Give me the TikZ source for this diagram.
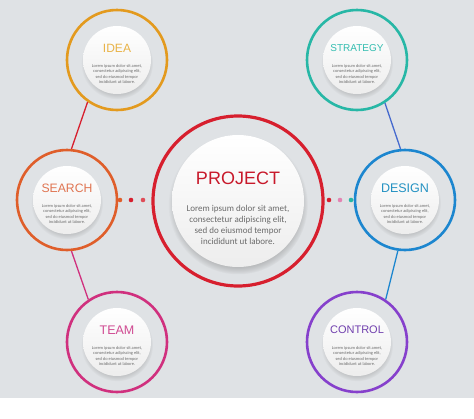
\documentclass[tikz,border=0pt]{standalone}
\usepackage{fontspec}
\setmainfont{Liberation Sans}
\newfontfamily\loremfont{Carlito}
\usetikzlibrary{shadows}

\definecolor{bgcol}{HTML}{DFE2E5}
\definecolor{loremcol}{HTML}{6A6A6A}
\definecolor{idearing}{HTML}{E39A1E}
\definecolor{ideatitle}{HTML}{E9B347}
\definecolor{strategyring}{HTML}{27B7A6}
\definecolor{strategytitle}{HTML}{33BDB0}
\definecolor{searchring}{HTML}{DF5E2A}
\definecolor{searchtitle}{HTML}{E07552}
\definecolor{designring}{HTML}{1C86CF}
\definecolor{designtitle}{HTML}{2291C2}
\definecolor{teamring}{HTML}{D0307E}
\definecolor{teamtitle}{HTML}{D04A92}
\definecolor{controlring}{HTML}{8640CC}
\definecolor{controltitle}{HTML}{7140AE}
\definecolor{projectring}{HTML}{D71F2E}
\definecolor{projecttitle}{HTML}{C8192B}

\def\loremtext{Lorem ipsum dolor sit amet,\\consectetur adipiscing elit,\\sed do eiusmod tempor\\incididunt ut labore.}

\begin{document}
\begin{tikzpicture}[x=1pt,y=-1pt]
        \tikzstyle{ring}=[circle,draw,line width=2.6pt,minimum size=100pt,inner sep=0pt]
        \tikzstyle{disc}=[circle,minimum size=68pt,inner sep=0pt,top color=white,bottom color=black!7,
            circular drop shadow={shadow xshift=0pt,shadow yshift=-3pt,shadow scale=1.06,opacity=0.3}]
        \tikzstyle{title}=[inner sep=0pt]
        \tikzstyle{lorem small}=[inner sep=0pt,align=center,text=loremcol,font=\loremfont\fontsize{4.4}{5.2}\selectfont]
        \tikzstyle{lorem big}=[inner sep=0pt,align=center,text=loremcol,font=\loremfont\fontsize{9}{11}\selectfont]
        \tikzstyle{link}=[line width=1.3pt]
        \tikzstyle{dot}=[circle,minimum size=4.6pt,inner sep=0pt]

        % Background and white strip at the bottom
        \fill[bgcol] (0,0) rectangle (474,398);
        \fill[white] (0,398) rectangle (474,418);
        \useasboundingbox (0,0) rectangle (474,418);

        % Draw the six small circles
        \foreach \name / \x / \y / \ts / \title in {idea/117/60/12/IDEA, strategy/357/60/10/STRATEGY,
                search/67/200/12.2/SEARCH, design/405/200/12.5/DESIGN,
                team/117/342/12.5/TEAM, control/357/342/11/CONTROL}
        {
            \node[ring,draw=\name ring] (\name) at (\x,\y) {};
            \node[disc] (\name-disc) at (\x,\y) {};
            \node[title,text=\name title,font=\fontsize{\ts}{\ts}\selectfont] (\name-title) at (\x,\y-12) {\title};
            \node[lorem small] (\name-text) at (\x,\y+14) {\loremtext};
        }

        % Draw the central circle
        \node[ring,draw=projectring,line width=3.2pt,minimum size=170pt] (project) at (238,201) {};
        \node[disc,minimum size=132pt,circular drop shadow={shadow xshift=0pt,shadow yshift=-4pt,shadow scale=1.05,opacity=0.3}] (project-disc) at (238,201) {};
        \node[title,text=projecttitle,font=\fontsize{18}{18}\selectfont] (project-title) at (238,178) {PROJECT};
        \node[lorem big] (project-text) at (238,225) {\loremtext};

        % Connect the circles on each side
        \draw[link,draw=projectring] (idea.235) -- (search.85);
        \draw[link,draw=teamring] (search.275) -- (team.124);
        \draw[link,draw=designring!60!controlring] (strategy.303) -- (design.95);
        \draw[link,draw=designring] (design.262) -- (control.56);

        % Dots between the side circles and the centre
        \foreach \name / \x / \col in {l1/120/searchring, l2/131/projectring, l3/143/projectring!80!white,
                r1/329/projectring, r2/340/teamring!60!white, r3/351/strategyring}
            \node[dot,fill=\col] (dot-\name) at (\x,200) {};
\end{tikzpicture}
\end{document}
